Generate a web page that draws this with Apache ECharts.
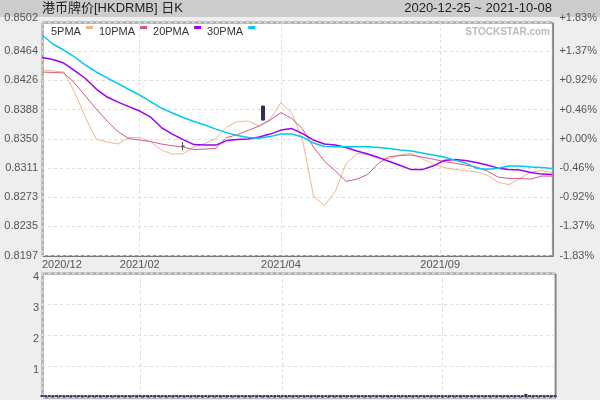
<!DOCTYPE html>
<html>
<head>
<meta charset="utf-8">
<title>港币牌价 日K</title>
<script src="https://cdn.jsdelivr.net/npm/echarts@6/dist/echarts.min.js"></script>
<style>
  html, body { margin: 0; padding: 0; background: #eeeeee; }
  #main { width: 600px; height: 400px; }
</style>
</head>
<body>
<div id="main"></div>
<script>
// 港币牌价[HKDRMB] 日K  2020-12-25 ~ 2021-10-08
var dayCount = 142;
var tickDays = [0, 27, 66, 110];
var tickLabels = ['2020/12', '2021/02', '2021/04', '2021/09'];
var priceLabels = ['0.8197', '0.8235', '0.8273', '0.8311', '0.8350', '0.8388', '0.8426', '0.8464', '0.8502'];
var pctLabels = ['-1.83%', '-1.37%', '-0.92%', '-0.46%', '+0.00%', '+0.46%', '+0.92%', '+1.37%', '+1.83%'];
var volLabels = ['', '1', '2', '3', '4'];

// 均线取样的交易日序号
var sampleDays = [0, 3, 6, 9, 12, 15, 18, 21, 24, 27, 30, 33, 36, 39, 42, 45, 48, 51, 54, 57, 60, 63, 66, 69,
  72, 75, 78, 81, 84, 87, 90, 93, 96, 99, 102, 105, 108, 111, 114, 117, 120, 123, 126, 129, 132, 135, 138, 141];

var ma5 = [0.84393, 0.84380, 0.84367, 0.84105, 0.83772, 0.83491, 0.83452, 0.83426, 0.83510, 0.83510, 0.83458, 0.83347,
  0.83295, 0.83299, 0.83386, 0.83434, 0.83497, 0.83648, 0.83720, 0.83726, 0.83661, 0.83752, 0.83965, 0.83831,
  0.83478, 0.82746, 0.82622, 0.82804, 0.83170, 0.83301, 0.83291, 0.83236, 0.83239, 0.83286, 0.83304, 0.83235,
  0.83167, 0.83119, 0.83094, 0.83078, 0.83060, 0.83020, 0.82925, 0.82897, 0.82974, 0.83060, 0.83080, 0.83053];
var ma10 = [0.84367, 0.84360, 0.84354, 0.84223, 0.84053, 0.83883, 0.83726, 0.83589, 0.83497, 0.83478, 0.83458, 0.83426,
  0.83404, 0.83386, 0.83354, 0.83360, 0.83369, 0.83510, 0.83550, 0.83606, 0.83661, 0.83737, 0.83837, 0.83761,
  0.83621, 0.83386, 0.83203, 0.83077, 0.82938, 0.82968, 0.83029, 0.83177, 0.83262, 0.83275, 0.83282, 0.83256,
  0.83229, 0.83197, 0.83177, 0.83151, 0.83125, 0.83073, 0.82994, 0.82977, 0.82977, 0.82968, 0.83007, 0.83007];
var ma20 = [0.84556, 0.84530, 0.84484, 0.84386, 0.84282, 0.84144, 0.84040, 0.83974, 0.83915, 0.83857, 0.83778, 0.83641,
  0.83556, 0.83484, 0.83419, 0.83412, 0.83412, 0.83471, 0.83484, 0.83491, 0.83517, 0.83556, 0.83608, 0.83628,
  0.83562, 0.83478, 0.83426, 0.83412, 0.83380, 0.83334, 0.83295, 0.83249, 0.83197, 0.83145, 0.83092, 0.83092,
  0.83138, 0.83210, 0.83223, 0.83210, 0.83184, 0.83151, 0.83111, 0.83092, 0.83086, 0.83053, 0.83033, 0.83027];
var ma30 = [0.84850, 0.84733, 0.84654, 0.84563, 0.84458, 0.84367, 0.84289, 0.84216, 0.84138, 0.84066, 0.83981, 0.83896,
  0.83831, 0.83772, 0.83720, 0.83674, 0.83621, 0.83575, 0.83536, 0.83510, 0.83503, 0.83523, 0.83556, 0.83556,
  0.83517, 0.83439, 0.83393, 0.83390, 0.83390, 0.83390, 0.83390, 0.83380, 0.83367, 0.83347, 0.83334, 0.83308,
  0.83282, 0.83256, 0.83216, 0.83177, 0.83111, 0.83098, 0.83111, 0.83138, 0.83138, 0.83125, 0.83118, 0.83108];

// 仅有的两根K线
var candleDays = [39, 61];
var candleOpen = [0.83399, 0.83739];
var candleClose = [0.83399, 0.83922];
var candleLow = [0.83347, 0.83739];
var candleHigh = [0.83452, 0.83922];

// 成交量
var volume = [
  0.06, 0.06, 0.06, 0.06, 0.06, 0.06, 0.06, 0.06, 0.06, 0.06, 0.06, 0.06, 0.06, 0.06, 0.06, 0.06, 0.06, 0.06, 0.06, 0.06,
  0.06, 0.06, 0.06, 0.06, 0.06, 0.06, 0.06, 0.06, 0.06, 0.06, 0.06, 0.06, 0.06, 0.06, 0.06, 0.06, 0.06, 0.06, 0.06, 0.06,
  0.06, 0.06, 0.06, 0.06, 0.06, 0.06, 0.06, 0.06, 0.06, 0.06, 0.06, 0.06, 0.06, 0.06, 0.06, 0.06, 0.06, 0.06, 0.06, 0.06,
  0.06, 0.06, 0.06, 0.06, 0.06, 0.06, 0.06, 0.06, 0.06, 0.06, 0.06, 0.06, 0.06, 0.06, 0.06, 0.06, 0.06, 0.06, 0.06, 0.06,
  0.06, 0.06, 0.06, 0.06, 0.06, 0.06, 0.06, 0.06, 0.06, 0.06, 0.06, 0.06, 0.06, 0.06, 0.06, 0.06, 0.06, 0.06, 0.06, 0.06,
  0.06, 0.06, 0.06, 0.06, 0.06, 0.06, 0.06, 0.06, 0.06, 0.06, 0.06, 0.06, 0.06, 0.06, 0.06, 0.06, 0.06, 0.06, 0.06, 0.06,
  0.06, 0.06, 0.06, 0.06, 0.06, 0.06, 0.06, 0.06, 0.06, 0.06, 0.06, 0.06, 0.06, 0.10, 0.06, 0.06, 0.06, 0.06, 0.06, 0.06,
  0.06, 0.06
];

var FONT = "'Liberation Sans', Arial, 'Noto Sans CJK SC', sans-serif";
var colors = ['#f5b38f', '#d45a82', '#9b00f0', '#00c8f2'];

var days = [];
for (var i = 0; i < dayCount; i++) days.push(String(i));

function isTick(index) {
  return tickDays.indexOf(index) >= 0;
}

function pairs(vals) {
  return sampleDays.map(function (d, k) { return [d, vals[k]]; });
}

var candles = candleDays.map(function (d, k) {
  return [d, candleOpen[k], candleClose[k], candleLow[k], candleHigh[k]];
});

function maSeries(name, vals, color, width) {
  return {
    name: name,
    type: 'line',
    xAxisIndex: 0,
    yAxisIndex: 0,
    data: pairs(vals),
    showSymbol: false,
    lineStyle: { width: width, color: color },
    itemStyle: { color: color },
    z: 3
  };
}

var gridLine = { color: '#dddddd', type: [3, 3], width: 1 };

var chart = echarts.init(document.getElementById('main'));
var option = {
  animation: false,
  backgroundColor: '#eeeeee',
  textStyle: { fontFamily: FONT },
  graphic: [
    { type: 'rect', left: 0, top: 0, shape: { width: 600, height: 17 }, style: { fill: '#cccccc' }, z: -1 },
    { type: 'text', left: 42, top: 2, style: { text: '港币牌价[HKDRMB] 日K', font: '13px ' + FONT, fill: '#222' } },
    { type: 'text', right: 48, top: 2, style: { text: '2020-12-25 ~ 2021-10-08', font: '13px ' + FONT, fill: '#222' } },
    { type: 'text', right: 50, top: 27, z: 10, style: { text: 'STOCKSTAR.com', font: 'bold 10px ' + FONT, fill: '#bbbbbb' } }
  ],
  legend: {
    left: 51,
    top: 26,
    padding: 0,
    align: 'right',
    itemWidth: 7,
    itemHeight: 11,
    itemGap: 6,
    icon: 'path://M0,0H7V3H0ZM0,11',
    itemStyle: { borderWidth: 0 },
    textStyle: { fontSize: 11, color: '#333', fontFamily: FONT },
    data: ['5PMA', '10PMA', '20PMA', '30PMA']
  },
  grid: [
    {
      left: 42, top: 22, width: 513, height: 233.5, show: true,
      backgroundColor: '#fff', borderColor: '#999', borderWidth: 1,
      shadowColor: '#777', shadowOffsetX: 1, shadowOffsetY: 1, shadowBlur: 0
    },
    {
      left: 42, top: 273, width: 513, height: 124, show: true,
      backgroundColor: '#fff', borderColor: '#999', borderWidth: 1,
      shadowColor: '#777', shadowOffsetX: 1, shadowOffsetY: 1, shadowBlur: 0
    }
  ],
  xAxis: [
    {
      type: 'category', gridIndex: 0, data: days, boundaryGap: false,
      axisLine: { show: false }, axisTick: { show: false },
      axisLabel: {
        interval: isTick,
        formatter: function (v, idx) { return tickLabels[tickDays.indexOf(idx)]; },
        color: '#555', fontSize: 11, margin: 4, alignMinLabel: 'left'
      },
      splitLine: { show: true, interval: isTick, lineStyle: gridLine }
    },
    {
      type: 'category', gridIndex: 1, data: days, boundaryGap: false,
      axisLine: { show: false }, axisTick: { show: false },
      axisLabel: { show: false },
      splitLine: { show: true, interval: isTick, lineStyle: gridLine }
    }
  ],
  yAxis: [
    { type: 'value', gridIndex: 0, min: 0.8197, max: 0.8502, show: false },
    {
      type: 'value', gridIndex: 0, min: 0, max: 8, interval: 1, position: 'left',
      axisLine: { show: false }, axisTick: { show: false },
      axisLabel: {
        color: '#555', fontSize: 11, margin: 4,
        formatter: function (v) { return v === 8 ? '{up|' + priceLabels[v] + '}' : priceLabels[v]; },
        rich: { up: { fontSize: 11, color: '#555', padding: [0, 0, 9, 0] } }
      },
      splitLine: { show: true, lineStyle: gridLine }
    },
    {
      type: 'value', gridIndex: 0, min: 0, max: 8, interval: 1, position: 'right',
      axisLine: { show: false }, axisTick: { show: false },
      axisLabel: {
        color: '#555', fontSize: 11, margin: 7,
        formatter: function (v) { return v === 8 ? '{up|' + pctLabels[v] + '}' : pctLabels[v]; },
        rich: { up: { fontSize: 11, color: '#555', padding: [0, 0, 9, 0] } }
      },
      splitLine: { show: false }
    },
    {
      type: 'value', gridIndex: 1, min: 0, max: 4, interval: 1,
      axisLine: { show: false }, axisTick: { show: false },
      axisLabel: {
        color: '#555', fontSize: 11, margin: 3,
        formatter: function (v) { return volLabels[v] ? '{dn|' + volLabels[v] + '}' : ''; },
        rich: { dn: { fontSize: 11, color: '#555', padding: [7, 0, 0, 0] } }
      },
      splitLine: { show: true, lineStyle: gridLine }
    }
  ],
  series: [
    maSeries('5PMA', ma5, colors[0], 1),
    maSeries('10PMA', ma10, colors[1], 1),
    maSeries('20PMA', ma20, colors[2], 1.5),
    maSeries('30PMA', ma30, colors[3], 1.5),
    {
      name: 'K',
      type: 'candlestick',
      xAxisIndex: 0,
      yAxisIndex: 0,
      barWidth: 3,
      data: candles,
      encode: { x: 0, y: [1, 2, 3, 4] },
      itemStyle: {
        color: '#2d2d5e', color0: '#2d2d5e',
        borderColor: '#2d2d5e', borderColor0: '#2d2d5e',
        borderColorDoji: '#555', borderWidth: 1
      },
      z: 4
    },
    {
      name: '成交量',
      type: 'bar',
      xAxisIndex: 1,
      yAxisIndex: 3,
      barWidth: 3,
      data: volume,
      itemStyle: { color: '#2d2d5e' },
      z: 5
    }
  ]
};
chart.setOption(option);
</script>
</body>
</html>
